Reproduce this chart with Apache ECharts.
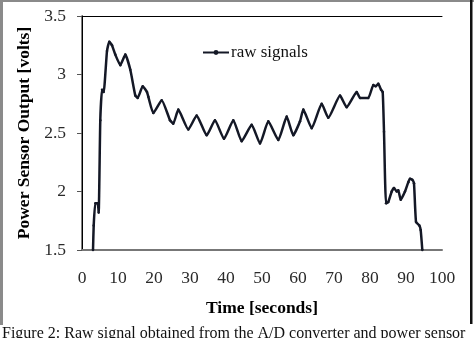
<!DOCTYPE html>
<html>
<head>
<meta charset="utf-8">
<script src="https://cdn.jsdelivr.net/npm/echarts@6/dist/echarts.min.js"></script>
<style>
  html, body { margin: 0; padding: 0; background: #fff; }
  #chart { width: 474px; height: 338px; }
</style>
</head>
<body>
<div id="chart"></div>
<script>
// Sampled sensor trace: time in seconds, output in volts
const timeSeconds = [
  3.06, 3.25, 3.69, 4.36, 4.64, 5.08, 5.56, 6.03, 6.94, 7.58, 8.33, 9.25,
  10.64, 12.03, 13.42, 14.81, 15.47, 16.86, 18.06, 18.42, 19.81, 22.14,
  24.44, 25.36, 26.75, 29.53, 31.86, 34.64, 36.94, 39.44, 42.03, 44.36,
  47.14, 49.44, 51.75, 54.53, 56.86, 58.69, 60.56, 61.47, 63.81, 66.58,
  68.42, 71.67, 73.53, 76.31, 77.22, 79.53, 80.92, 81.58, 82.31, 83.06,
  83.53, 83.89, 84.44, 85.08, 86.03, 86.67, 87.42, 87.86, 88.53, 89.72,
  90.64, 91.11, 91.75, 92.22, 92.78, 93.69, 94.08, 94.53
];
const rawSignals = [
  1.50, 1.71, 1.90, 1.90, 1.82, 2.61, 2.87, 2.85, 3.20, 3.28, 3.25, 3.17,
  3.08, 3.17, 3.04, 2.82, 2.80, 2.90, 2.85, 2.81, 2.67, 2.78,
  2.61, 2.58, 2.70, 2.53, 2.65, 2.48, 2.61, 2.45, 2.61, 2.43,
  2.57, 2.41, 2.60, 2.44, 2.64, 2.48, 2.60, 2.70, 2.54, 2.75,
  2.63, 2.82, 2.72, 2.85, 2.80, 2.80, 2.91, 2.90, 2.92, 2.87,
  2.85, 2.51, 1.90, 1.91, 2.00, 2.03, 2.00, 2.01, 1.93, 2.00,
  2.08, 2.11, 2.10, 2.07, 1.74, 1.71, 1.67, 1.50
];
const xTicks = { min: 0, max: 100, interval: 10 };
const yTicks = { min: 1.5, max: 3.5, interval: 0.5 };

const serif = '"Liberation Serif", "DejaVu Serif", serif';
const points = timeSeconds.map((t, i) => [t, rawSignals[i]]);

const chart = echarts.init(document.getElementById('chart'), null, { renderer: 'canvas' });
chart.setOption({
  animation: false,
  backgroundColor: '#fff',
  grid: { left: 82, right: 32, top: 16, bottom: 88, containLabel: false },
  legend: {
    left: 197, top: 39,
    itemWidth: 26, itemHeight: 6, itemGap: 0,
    textStyle: { fontFamily: serif, fontSize: 17, color: '#111', padding: [0, 0, 0, -3] },
    data: ['raw signals']
  },
  xAxis: [{
    type: 'value', min: xTicks.min, max: xTicks.max, interval: xTicks.interval,
    name: 'Time [seconds]', nameLocation: 'middle', nameGap: 49,
    nameTextStyle: { fontFamily: serif, fontSize: 17.5, fontWeight: 'bold', color: '#000' },
    axisLine: { lineStyle: { color: '#777', width: 2 } },
    axisTick: { show: false },
    axisLabel: { fontFamily: serif, fontSize: 17.5, color: '#2a2a2a', margin: 19 },
    splitLine: { show: false }
  }, {
    type: 'value', position: 'top', min: xTicks.min, max: xTicks.max,
    axisLine: { show: true, lineStyle: { color: '#000', width: 1 } },
    axisTick: { show: false }, axisLabel: { show: false }, splitLine: { show: false }
  }],
  yAxis: [{
    type: 'value', min: yTicks.min, max: yTicks.max, interval: yTicks.interval,
    name: 'Power Sensor Output [volts]', nameLocation: 'middle', nameGap: 41,
    nameTextStyle: { fontFamily: serif, fontSize: 17.5, fontWeight: 'bold', color: '#000' },
    axisLine: { show: true, lineStyle: { color: '#555', width: 1.5 } },
    axisTick: { show: true, inside: false, length: 5, lineStyle: { color: '#555' } },
    axisLabel: { fontFamily: serif, fontSize: 17.5, color: '#2a2a2a', margin: 16 },
    splitLine: { show: false }
  }, {
    type: 'value', position: 'right', min: yTicks.min, max: yTicks.max,
    axisLine: { show: true, lineStyle: { color: '#000', width: 1 } },
    axisTick: { show: false }, axisLabel: { show: false }, splitLine: { show: false }
  }],
  series: [{
    name: 'raw signals',
    type: 'line',
    data: points,
    symbol: 'circle', symbolSize: 2.5, showSymbol: true,
    lineStyle: { color: '#141826', width: 2.5 },
    itemStyle: { color: '#141826' },
    smooth: 0.15
  }],
  graphic: [
    { type: 'rect', left: 0, top: 0, shape: { width: 474, height: 2 }, style: { fill: '#8a8a8a' } },
    { type: 'rect', left: 0, top: 0, shape: { width: 3, height: 325 }, style: { fill: '#8a8a8a' } },
    { type: 'rect', left: 470, top: 0, shape: { width: 2.5, height: 324 }, style: { fill: '#111' } },
    {
      type: 'text', left: 2, top: 326,
      style: {
        text: 'Figure 2: Raw signal obtained from the A/D converter and power sensor',
        fontFamily: serif, fontSize: 16, fill: '#111'
      }
    }
  ]
});
</script>
</body>
</html>
